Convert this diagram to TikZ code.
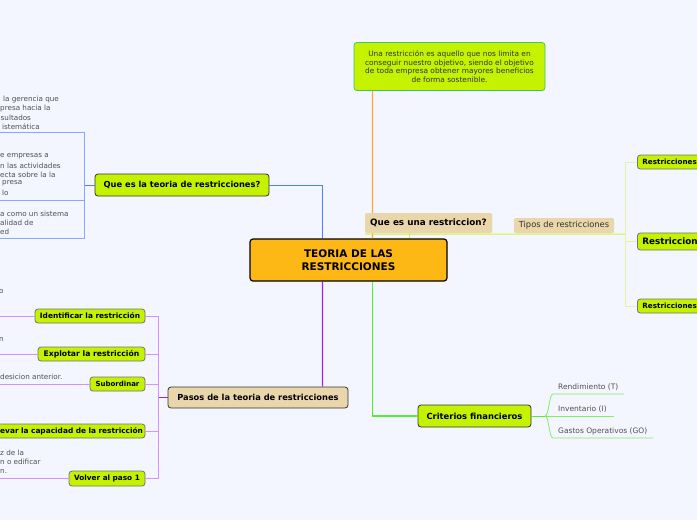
\documentclass[tikz,border=0pt]{standalone}
\usepackage{fontspec}
\setmainfont{DejaVu Sans}
\usetikzlibrary{calc}
\definecolor{bgc}{HTML}{F3F6FE}
\definecolor{lime}{HTML}{C5F200}
\definecolor{orng}{HTML}{FDB815}
\definecolor{tan}{HTML}{E9D6AA}
\definecolor{txt}{HTML}{505050}
\definecolor{blueL}{HTML}{4F7FFF}
\definecolor{blueB}{HTML}{86A8FF}
\definecolor{purpD}{HTML}{A020F0}
\definecolor{purpL}{HTML}{D291FF}
\definecolor{orL}{HTML}{FFA530}
\definecolor{grn}{HTML}{55EE33}
\definecolor{grnL}{HTML}{7CF060}
\definecolor{ylw}{HTML}{D4F23A}
\definecolor{ylwL}{HTML}{E2F4A0}
\definecolor{unaB}{HTML}{3CC46A}
\tikzset{
  box/.style={draw=#1, rounded corners=3pt, inner sep=0pt, line width=0.8pt, align=center},
  limebox/.style={box=black!80, fill=lime},
  tanbox/.style={rounded corners=2pt, fill=tan, inner sep=0pt},
  small/.style={font=\fontsize{7.2}{9}\selectfont, text=txt, inner sep=0pt, anchor=west},
}
\begin{document}
\begin{tikzpicture}[x=1pt,y=-1pt]
\useasboundingbox (0,0) rectangle (697,520);
\fill[bgc] (0,0) rectangle (697,520);
\clip (0,0) rectangle (697,520);

% ---------- nodes ----------
\node[box=black, fill=orng, line width=1.2pt, minimum width=197pt, minimum height=42pt,
      font=\fontsize{10.5}{13}\selectfont\bfseries] (central) at (348.5,260) {TEORIA DE LAS\\RESTRICCIONES};

\node[limebox, minimum width=174pt, minimum height=22pt, font=\fontsize{8.3}{10}\selectfont\bfseries] (qt) at (182,185) {Que es la teoria de restricciones?};

\node[box=black!80, fill=tan, minimum width=180pt, minimum height=21pt, font=\fontsize{8.3}{10}\selectfont\bfseries] (pasos) at (258,397.5) {Pasos de la teoria de restricciones};

\node[limebox, draw=black!55, minimum width=110pt, minimum height=14pt, font=\fontsize{7.4}{8}\selectfont\bfseries] (ident) at (90,316) {Identificar la restricción};
\node[limebox, draw=black!55, minimum width=107pt, minimum height=14pt, font=\fontsize{7.7}{9}\selectfont\bfseries] (explo) at (91.5,354) {Explotar la restricción};
\node[limebox, draw=black!55, minimum width=55pt, minimum height=14pt, font=\fontsize{7}{8}\selectfont\bfseries] (subor) at (117.5,384) {Subordinar};
\node[limebox, draw=black!55, minimum width=160pt, minimum height=14pt, text width=156pt, align=right, font=\fontsize{7.4}{8}\selectfont\bfseries] (eleva) at (65,431) {evar la capacidad de la restricción};
\node[limebox, draw=black!55, minimum width=76pt, minimum height=15pt, font=\fontsize{7.3}{8}\selectfont\bfseries] (volver) at (107,478.5) {Volver al paso 1};

\node[box=unaB, fill=lime, minimum width=191pt, minimum height=48pt, font=\fontsize{7.4}{8.7}\selectfont, text=black!80] (una) at (449.5,66.5)
  {Una restricción es aquello que nos limita en\\conseguir nuestro objetivo, siendo el objetivo\\de toda empresa obtener mayores beneficios\\de forma sostenible.};

\node[tanbox, minimum width=127pt, minimum height=20pt, font=\fontsize{8.8}{10}\selectfont\bfseries] (que) at (428.5,223) {Que es una restriccion?};
\node[tanbox, minimum width=100pt, minimum height=15pt, font=\fontsize{8.3}{9}\selectfont, text=black!80] (tipos) at (564,225.5) {Tipos de restricciones};

\node[limebox, draw=black!55, anchor=west, minimum height=14pt, text width=84pt, align=left, font=\fontsize{7.2}{8}\selectfont\bfseries] (r1) at (637,162) {\hspace*{5pt}Restricciones};
\node[limebox, draw=black!55, anchor=west, minimum height=17pt, text width=84pt, align=left, font=\fontsize{8.8}{10}\selectfont\bfseries] (r2) at (637,241.5) {\hspace*{5pt}Restriccion};
\node[limebox, draw=black!55, anchor=west, minimum height=14pt, text width=84pt, align=left, font=\fontsize{7.2}{8}\selectfont\bfseries] (r3) at (637,306) {\hspace*{5pt}Restricciones};

\node[limebox, minimum width=113pt, minimum height=22pt, font=\fontsize{8.4}{10}\selectfont\bfseries] (crit) at (474.5,416) {Criterios financieros};

\node[small, font=\fontsize{7.5}{8}\selectfont] (rend) at (558,387.5) {Rendimiento (T)};
\node[small, font=\fontsize{7.5}{8}\selectfont] (inve) at (558,409.5) {Inventario (I)};
\node[small, font=\fontsize{7.5}{8}\selectfont] (gast) at (558,431.5) {Gastos Operativos (GO)};

% left texts of "Que es la teoria"
\node[small] (t1a) at (3,100) {la gerencia que};
\node[small] (t1b) at (0,109) {presa hacia la};
\node[small] (t1c) at (0.5,118) {sultados};
\node[small] (t1d) at (2,127) {istemática};
\node[small] (t2a) at (0,156.5) {e empresas a};
\node[small] (t2b) at (0,165.5) {n las actividades};
\node[small] (t2c) at (0,174.5) {ecta sobre la la};
\node[small] (t2d) at (2,183.5) {presa};
\node[small] (t2e) at (2,192.5) {lo};
\node[small] (t3a) at (0,214) {a como un sistema};
\node[small] (t3b) at (0,223) {alidad de};
\node[small] (t3c) at (0,232) {ed};
% left texts of pasos
\node[small] (p1) at (-1,292) {o};
\node[small] (p2) at (-1,339) {n};
\node[small] (p3) at (0,377) {desicion anterior.};
\node[small] (p5a) at (0,453) {z de la};
\node[small] (p5b) at (0,462) {n o edificar};
\node[small] (p5c) at (0,471) {n.};

% ---------- coordinates ----------
\coordinate (qb) at (84,185);
\coordinate (pb) at (158,397.5);
\coordinate (tb) at (625,234);
\coordinate (cb) at (545,416);

% ---------- connectors ----------
% blue
\draw[blueL, line width=1pt] ([xshift=73pt]central.north west) |- (qt.east);
\draw[blueL, line width=1pt] (qt.west) -- (qb);
\draw[blueB, line width=0.8pt] (0,132) -- (84,132) -- (84,238) -- (0,238);
\draw[blueB, line width=0.8pt] (84,200) -- (0,200);

% purple
\draw[purpD, line width=1.2pt] ([xshift=73pt]central.south west) -- ([xshift=155pt]pasos.north west);
\draw[purpD, line width=1pt] (pasos.west) -- (pb);
\draw[purpL, line width=0.8pt] (pb) |- (ident.east);
\draw[purpL, line width=0.8pt] (pb) |- (explo.east);
\draw[purpL, line width=0.8pt] (pb) |- (subor.east);
\draw[purpL, line width=0.8pt] (pb) |- (eleva.east);
\draw[purpL, line width=0.8pt] (pb) |- (volver.east);
\draw[purpL, line width=0.8pt] (ident.west) -- (ident.west -| 0,0);
\draw[purpL, line width=0.8pt] (explo.west) -- (explo.west -| 0,0);
\draw[purpL, line width=0.8pt] (subor.west) -- (subor.west -| 0,0);
\draw[purpL, line width=0.8pt] (volver.west) -- (volver.west -| 0,0);

% orange
\draw[orL, line width=1.2pt] ([xshift=19pt]una.south west) -- ([xshift=123pt]central.north west);
\node[tanbox, minimum width=127pt, minimum height=20pt, font=\fontsize{8.8}{10}\selectfont\bfseries] at (que) {Que es una restriccion?};

% yellow-green
\draw[ylw, line width=1pt] ([xshift=160pt]central.north west) -- ++(0,-5);
\draw[ylw, line width=1pt] (que.south west) ++(0,1) -- (tb);
\draw[ylwL, line width=0.8pt] (tb) |- (r1.west);
\draw[ylwL, line width=0.8pt] (tb) |- (r2.west);
\draw[ylwL, line width=0.8pt] (tb) |- (r3.west);

% green
\draw[grn, line width=1.2pt] ([xshift=123pt]central.south west) |- (crit.west);
\draw[grn, line width=1pt] (crit.east) -- (cb);
\draw[grnL, line width=0.8pt] (cb) .. controls (549,416) and (549,394) .. (553,394) -- (624,394);
\draw[grnL, line width=0.8pt] (cb) -- (614,416);
\draw[grnL, line width=0.8pt] (cb) .. controls (549,416) and (549,438) .. (553,438) -- (653,438);
\end{tikzpicture}
\end{document}
